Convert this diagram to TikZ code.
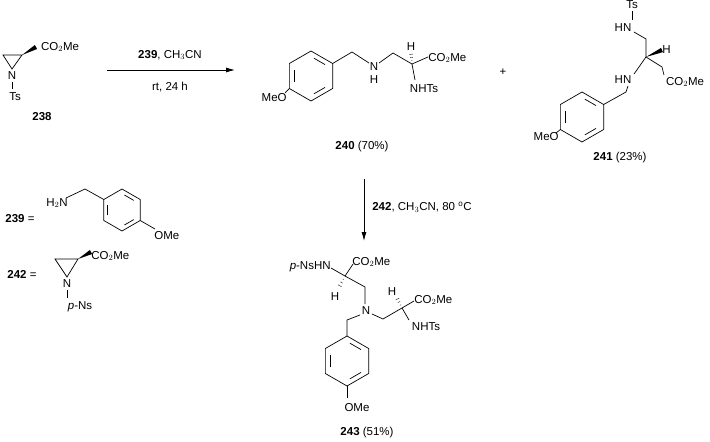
\documentclass[tikz,border=0pt]{standalone}
\usepackage{fontspec}
\setmainfont{Liberation Sans}
\usetikzlibrary{calc,arrows.meta}
\newcommand{\hashbd}[2]{\foreach \t in {0.25,0.5,0.75,1}{\coordinate (hP) at ($(#1)!\t!(#2)$); \draw[thin] ($(hP)!\t*2.6pt!90:(#2)$) -- ($(hP)!\t*2.6pt!-90:(#2)$);}}
\newcommand{\wedgebd}[2]{\fill (#1) -- ($(#2)!2.3pt!90:(#1)$) -- ($(#2)!2.3pt!-90:(#1)$) -- cycle;}
\begin{document}
\begin{tikzpicture}[x=1pt,y=-1pt,line width=0.7pt,
  t/.style={inner sep=0pt,font=\fontsize{11.5}{13}\selectfont},
  benz/.pic={\draw (30:#1)--(90:#1)--(150:#1)--(210:#1)--(270:#1)--(330:#1)--cycle;
    \foreach \a in {30,150,270}{\draw ($(\a:#1)!0.17!(\a+60:#1)!0.22!(0,0)$)--($(\a+60:#1)!0.17!(\a:#1)!0.22!(0,0)$);}},
  arr/.style={-{Latex[length=9pt,width=5pt]},line width=0.8pt}]
\useasboundingbox (0,0) rectangle (710,442);
% 238
\draw (3,55) -- (22,55) -- (12,69) -- cycle;
\wedgebd{22,55}{36,47}
\node[t] (c238) at (60,47) {CO$_2$Me};
\node[t] (n238) at (12,76) {N};
\draw (12,82) -- (12,89);
\node[t] (ts238) at (15,97) {Ts};
\node[t] (l238) at (42,117) {\textbf{238}};
% arrow 1
\coordinate (a1s) at (107,70); \coordinate (a1e) at (235,70);
\draw[arr] (a1s) -- (a1e);
\node[t] (r1a) at (170,55) {\textbf{239}, CH$_3$CN};
\node[t] (r1b) at (170,87) {rt, 24 h};
% 240
\pic at (311,76) {benz=25};
\draw (289.4,88.5) -- (285,93);
\node[t,anchor=east] (m240) at (287,98) {MeO};
\draw (332.6,63.5) -- (352,52) -- (369,63);
\node[t] (n240) at (374,67) {N};
\node[t] (h240) at (374,80) {H};
\draw (379,63) -- (393,53) -- (412,64) -- (428,57);
\hashbd{412,64}{411,51}
\node[t] (hh240) at (411,47) {H};
\node[t,anchor=west] (c240) at (428,58) {CO$_2$Me};
\draw (412,64) -- (415,80);
\node[t] (nts240) at (424,89) {NHTs};
\node[t] (l240) at (362,147) {\textbf{240} (70\%)};
\node[t] (plus) at (503,72) {+};
% 241
\node[t] (ts241) at (632,5) {Ts};
\draw (632,11) -- (632,20);
\node[t] (hn241) at (623,28) {HN};
\draw (634,32) -- (646,39) -- (646,57);
\wedgebd{646,57}{662,50}
\node[t,anchor=west] (hh241) at (662,50) {H};
\draw (646,57) -- (662,67) -- (664,75);
\node[t] (c241) at (685,82) {CO$_2$Me};
\draw (646,57) -- (634,74);
\node[t] (hn241b) at (623,80) {HN};
\draw (628,86) -- (626,92) -- (603.6,104.5);
\pic at (582,117) {benz=25};
\draw (560.4,129.5) -- (556,133);
\node[t,anchor=east] (m241) at (559,137) {MeO};
\node[t] (l241) at (620,158) {\textbf{241} (23\%)};
% arrow 2
\coordinate (a2s) at (364,179); \coordinate (a2e) at (364,241);
\draw[arr] (a2s) -- (a2e);
\node[t,anchor=west] (r2) at (372,207) {\textbf{242}, CH$_3$CN, 80 $^{\mathrm{o}}$C};
% 239 =
\node[t] (l239) at (20,219) {\textbf{239} =};
\node[t] (h2n) at (57,203) {H$_2$N};
\draw (66,198) -- (85,189) -- (103.8,199.5);
\pic at (122,210) {benz=21};
\draw (140.2,220.5) -- (155,229);
\node[t,anchor=west] (ome239) at (154,236) {OMe};
% 242 =
\node[t] (l242) at (22,274) {\textbf{242} =};
\draw (55,259) -- (78,259) -- (67,277) -- cycle;
\wedgebd{78,259}{91,252}
\node[t,anchor=west] (c242) at (91,256) {CO$_2$Me};
\node[t] (n242) at (67,284) {N};
\draw (67,290) -- (67,298);
\node[t] (ns242) at (80,307) {\textit{p}-Ns};
% 243
\node[t,anchor=east] (pns) at (331,267) {\textit{p}-NsHN};
\draw (331,268) -- (345,276) -- (353,264);
\node[t,anchor=west] (c243a) at (352,262) {CO$_2$Me};
\hashbd{345,276}{338,289}
\node[t] (h243a) at (335,297) {H};
\draw (345,276) -- (365,287) -- (365,304);
\node[t] (n243) at (366,311) {N};
\draw (372,314) -- (383,319) -- (402,308) -- (414,301);
\hashbd{402,308}{396,296}
\node[t] (h243b) at (392,292) {H};
\node[t,anchor=west] (c243b) at (414,300) {CO$_2$Me};
\draw (402,308) -- (409,320);
\node[t] (nts243) at (426,327) {NHTs};
\draw (360,315) -- (347,320) -- (347,336);
\pic at (347,361) {benz=25};
\draw (347,386) -- (347,398);
\node[t] (ome243) at (357,408) {OMe};
\node[t] (l243) at (367,433) {\textbf{243} (51\%)};
\end{tikzpicture}
\end{document}
